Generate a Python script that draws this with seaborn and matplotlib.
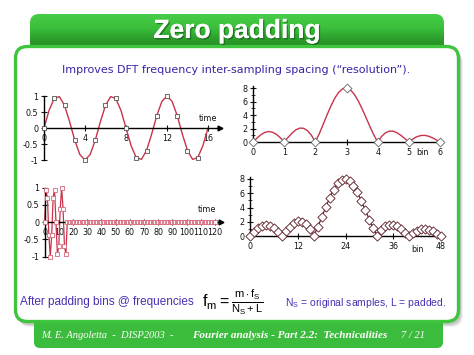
import numpy as np
import pandas as pd
import matplotlib
matplotlib.use("Agg")
import matplotlib.pyplot as plt
import matplotlib.patheffects as pe
from matplotlib.patches import FancyBboxPatch
from matplotlib.colors import LinearSegmentedColormap
import seaborn as sns

sns.set_theme(style="white")
plt.rcParams["font.family"] = ["DejaVu Sans"]
plt.rcParams["mathtext.fontset"] = "custom"
plt.rcParams["mathtext.rm"] = "Liberation Sans"
plt.rcParams["mathtext.it"] = "Liberation Sans"
plt.rcParams["mathtext.sf"] = "Liberation Sans"

# ---------------- data ----------------
title = "Zero padding"
subtitle = "Improves DFT frequency inter-sampling spacing (\u201cresolution\u201d)."

# continuous sine (time axis, half-sample spacing)
curve_step = 0.5
sine_curve = [0, 0.556, 0.924, 0.981, 0.707, 0.195, -0.383, -0.831, -1, -0.831,
              -0.383, 0.195, 0.707, 0.981, 0.924, 0.556, 0, -0.556, -0.924, -0.981,
              -0.707, -0.195, 0.383, 0.831, 1, 0.831, 0.383, -0.195, -0.707, -0.981,
              -0.924, -0.556, 0]
# the 16 original samples
samples = [0, 0.924, 0.707, -0.383, -1, -0.383, 0.707, 0.924,
           0, -0.924, -0.707, 0.383, 1, 0.383, -0.707, -0.924]
# zero-padded record (samples followed by zeros)
padded_zeros = [0.0] * 105
padded = samples + padded_zeros

# DFT of the 16 samples, bins 0..6
dft_bins = [0, 1, 2, 3, 4, 5, 6]
dft_vals = [0, 0, 0, 8, 0, 0, 0]
# DFT of padded record, bins 0..48 (8 bins per original bin)
padded_bins_per_bin = 8
padded_spec = [0, 0.57, 1.07, 1.41, 1.55, 1.45, 1.14, 0.63,
               0, 0.68, 1.31, 1.80, 2.06, 2.03, 1.67, 0.99,
               0, 1.22, 2.60, 4.01, 5.34, 6.50, 7.37, 7.88,
               8.0, 7.72, 7.07, 6.11, 4.92, 3.62, 2.30, 1.06,
               0, 0.82, 1.36, 1.61, 1.60, 1.36, 0.97, 0.49,
               0, 0.44, 0.77, 0.95, 0.99, 0.87, 0.64, 0.34, 0]

tl_xticks = [0, 4, 8, 12, 16]
tl_yticks = [-1, -0.5, 0, 0.5, 1]
tl_ylabels = ["-1", "-0.5", "0", "0.5", "1"]
tr_xticks = [0, 1, 2, 3, 4, 5, 6]
tr_yticks = [0, 2, 4, 6, 8]
bl_xticks = [0, 10, 20, 30, 40, 50, 60, 70, 80, 90, 100, 110, 120]
br_xticks = [0, 12, 24, 36, 48]
br_yticks = [0, 2, 4, 6, 8]

df_curve = pd.DataFrame({"t": np.arange(len(sine_curve)) * curve_step, "x": sine_curve})
df_samp = pd.DataFrame({"n": np.arange(len(samples)), "x": samples})
df_pad = pd.DataFrame({"n": np.arange(len(padded)), "x": padded})
df_dft = pd.DataFrame({"k": dft_bins, "X": dft_vals})
df_spec = pd.DataFrame({"k": np.arange(len(padded_spec)), "X": padded_spec})
df_spec["f"] = df_spec["k"] / padded_bins_per_bin

RED = "#c9334b"
W, H = 474, 355

fig = plt.figure(figsize=(W / 100, H / 100), dpi=100)
bg = fig.add_axes([0, 0, 1, 1])
bg.axis("off")

# --- shadows ---
for off, a in [(4, 0.06), (3, 0.08), (2, 0.10)]:
    bg.add_patch(FancyBboxPatch((15 + off, 47 + off), 444, 276,
                                boxstyle="round,pad=0,rounding_size=12",
                                fc="#000000", ec="none", alpha=a))
# footer bar
bg.add_patch(FancyBboxPatch((34, 300), 409, 48, boxstyle="round,pad=0,rounding_size=6",
                            fc="#3cbc3c", ec="none"))
# title bar with gradient
tb = FancyBboxPatch((30, 14), 414, 40, boxstyle="round,pad=0,rounding_size=9",
                    fc="none", ec="none")
bg.add_patch(tb)
grad_cmap = LinearSegmentedColormap.from_list("g", ["#46cc46", "#3cc03c", "#2a9a2a", "#1f7f1f"])
bg.imshow(np.linspace(0, 1, 64).reshape(-1, 1), extent=[30, 444, 54, 14], aspect="auto",
          cmap=grad_cmap, clip_path=tb, origin="upper", zorder=1)
# white panel
bg.add_patch(FancyBboxPatch((15.5, 46.5), 443, 275, boxstyle="round,pad=0,rounding_size=12",
                            fc="white", ec="#3ec43e", lw=2.4, zorder=2))
bg.set_xlim(0, W)
bg.set_ylim(H, 0)

bg.text(237, 31, title, ha="center", va="center", fontsize=19, fontweight="bold",
        family="Liberation Sans", color="white", zorder=5,
        path_effects=[pe.withSimplePatchShadow(offset=(1, -1), shadow_rgbFace="#145214", alpha=0.6),
                      pe.Normal()])
bg.text(236, 70, subtitle, ha="center", va="center", fontsize=8.0, color="#3a22a6", zorder=5)

bg.text(20, 302, "After padding bins @ frequencies", ha="left", va="center", fontsize=8.5,
        family="Liberation Sans", color="#4a2eb4", zorder=5)
bg.text(202, 302, r"$\mathrm{f_m = \frac{m \cdot f_S}{N_S + L}}$", ha="left", va="center",
        fontsize=11.5, color="black", zorder=5)
bg.text(285, 303, r"N$_\mathrm{S}$ = original samples, L = padded.", ha="left", va="center",
        fontsize=7.45, family="Liberation Sans", color="#4a2eb4", zorder=5)

fkw = dict(va="center", ha="left", color="white", family="Liberation Serif", zorder=5)
bg.text(41, 336, "M. E. Angoletta  -  DISP2003  -", style="italic", fontsize=7.6, **fkw)
bg.text(192, 336, "Fourier analysis - Part 2.2:  Technicalities", style="italic",
        fontweight="bold", fontsize=8.0, **fkw)
bg.text(401, 336, "7 / 21", style="italic", fontsize=7.6, **fkw)


def px_axes(x0, y0, x1, y1):
    ax = fig.add_axes([x0 / W, 1 - y1 / H, (x1 - x0) / W, (y1 - y0) / H])
    ax.patch.set_alpha(0)
    for s in ["top", "right"]:
        ax.spines[s].set_visible(False)
    ax.spines["left"].set_position(("data", 0))
    ax.spines["bottom"].set_position(("data", 0))
    for s in ["left", "bottom"]:
        ax.spines[s].set_color("black")
        ax.spines[s].set_linewidth(1.0)
    ax.tick_params(axis="both", direction="inout", length=4, width=0.8, labelsize=5.8,
                   colors="#111111", pad=2, left=True, bottom=True)
    ax.grid(False)
    return ax


# ---------- top-left: sine + samples ----------
ax1 = px_axes(30, 88, 222, 170)
sns.lineplot(data=df_curve, x="t", y="x", ax=ax1, color=RED, lw=1.0, zorder=2)
sns.scatterplot(data=df_samp, x="n", y="x", ax=ax1, marker="s", s=11, color="#fff6f6",
                edgecolor="#555555", linewidth=0.6, zorder=3)
ax1.set_xlim((30 - 44) / 10.25, (222 - 44) / 10.25)
ax1.set_ylim((128 - 170) / 32, (128 - 88) / 32)
ax1.spines["left"].set_bounds(-1, 1)
ax1.spines["bottom"].set_bounds(0, 17.0)
ax1.plot([17.2], [0], marker=">", color="black", ms=3.5, clip_on=False)
ax1.set_xticks(tl_xticks)
ax1.set_xticklabels([str(v) for v in tl_xticks])
ax1.set_yticks(tl_yticks)
ax1.set_yticklabels(tl_ylabels)
ax1.text(16.0, 0.3, "time", fontsize=5.8, ha="center", va="center", color="#111111")
ax1.set_xlabel(""); ax1.set_ylabel("")

# ---------- top-right: DFT 16 samples ----------
ax2 = px_axes(245, 82, 450, 160)
sns.lineplot(data=df_spec, x="f", y="X", ax=ax2, color=RED, lw=1.0, zorder=2)
sns.scatterplot(data=df_dft, x="k", y="X", ax=ax2, marker="D", s=20, color="white",
                edgecolor="#666666", linewidth=0.6, zorder=3, clip_on=False)
ax2.set_xlim((245 - 253) / 31.17, (450 - 253) / 31.17)
ax2.set_ylim((142 - 160) / 6.75, (142 - 82) / 6.75)
ax2.spines["left"].set_bounds(0, 8.3)
ax2.spines["bottom"].set_bounds(0, 6)
ax2.set_xticks(tr_xticks)
ax2.set_xticklabels([str(v) for v in tr_xticks])
ax2.set_yticks(tr_yticks)
ax2.set_yticklabels([str(v) for v in tr_yticks])
ax2.set_yticks([1, 3, 5, 7], minor=True)
ax2.tick_params(axis="y", which="minor", direction="inout", length=2.5, width=0.6, left=True)
ax2.text(5.45, -1.6, "bin", fontsize=5.8, ha="center", va="center", color="#111111")
ax2.set_xlabel(""); ax2.set_ylabel("")

# ---------- bottom-left: zero padded record ----------
ax3 = px_axes(28, 180, 226, 265)
sns.lineplot(data=df_pad, x="n", y="x", ax=ax3, color=RED, lw=0.9, zorder=2)
sns.scatterplot(data=df_pad, x="n", y="x", ax=ax3, marker="s", s=10, color="#fff4f6",
                edgecolor="#d46a7c", linewidth=0.6, zorder=3)
ax3.set_xlim((28 - 44.6) / 1.42, (226 - 44.6) / 1.42)
ax3.set_ylim((222 - 265) / 34.5, (222 - 180) / 34.5)
ax3.spines["left"].set_bounds(-1, 1)
ax3.spines["bottom"].set_bounds(0, 123)
ax3.plot([124.5], [0], marker=">", color="black", ms=3.5, clip_on=False)
ax3.set_xticks(bl_xticks)
ax3.set_xticklabels([str(v) for v in bl_xticks])
ax3.set_yticks(tl_yticks)
ax3.set_yticklabels(tl_ylabels)
ax3.text(114, 0.35, "time", fontsize=5.8, ha="center", va="center", color="#111111")
ax3.set_xlabel(""); ax3.set_ylabel("")

# ---------- bottom-right: DFT of padded record ----------
ax4 = px_axes(242, 172, 452, 258)
sns.lineplot(data=df_spec, x="k", y="X", ax=ax4, color="#7a1a28", lw=0.9, zorder=2)
sns.scatterplot(data=df_spec, x="k", y="X", ax=ax4, marker="D", s=22, color="white",
                edgecolor="#5a1a22", linewidth=0.6, zorder=3, clip_on=False)
ax4.set_xlim((242 - 250) / 3.98, (452 - 250) / 3.98)
ax4.set_ylim((236 - 258) / 7.125, (236 - 172) / 7.125)
ax4.spines["left"].set_bounds(0, 8.3)
ax4.spines["bottom"].set_bounds(0, 48)
ax4.set_xticks(br_xticks)
ax4.set_xticklabels([str(v) for v in br_xticks])
ax4.set_yticks(br_yticks)
ax4.set_yticklabels([str(v) for v in br_yticks])
ax4.set_yticks([1, 3, 5, 7], minor=True)
ax4.tick_params(axis="y", which="minor", direction="inout", length=2.5, width=0.6, left=True)
ax4.text(42, -1.95, "bin", fontsize=5.8, ha="center", va="center", color="#111111")
ax4.set_xlabel(""); ax4.set_ylabel("")

fig.savefig("out.png", dpi=100)
